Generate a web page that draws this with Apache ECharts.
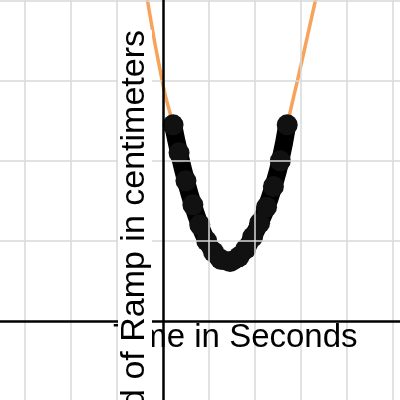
<!DOCTYPE html>
<html>
<head>
<meta charset="utf-8">
<script src="https://cdn.jsdelivr.net/npm/echarts@6/dist/echarts.min.js"></script>
<style>html,body{margin:0;padding:0;background:#fff}#chart{width:400px;height:400px}</style>
</head>
<body>
<div id="chart"></div>
<script>
// Grid lines (one unit each way)
var gridX = [-3, -2, -1, 1, 2, 3, 4, 5];
var gridY = [1, 2, 3, 4];
// Fitted curve (orange)
var curveX = [-0.35, 0, 0.22, 0.5, 0.8, 1.1, 1.46, 1.8, 2.1, 2.4, 2.7, 3.0, 3.33];
var curveY = [4.05, 2.95, 2.45, 1.75, 1.22, 0.88, 0.74, 0.86, 1.18, 1.65, 2.45, 3.2, 4.05];
var dataX = [0.22, 0.35, 0.5, 0.65, 0.8, 0.95, 1.1, 1.25, 1.46, 1.65, 1.8, 1.95, 2.1, 2.25, 2.4, 2.55, 2.7];
var dataY = [2.45, 2.1, 1.75, 1.45, 1.2, 1.0, 0.86, 0.77, 0.74, 0.8, 0.9, 1.05, 1.22, 1.42, 1.68, 2.0, 2.45];
var xLabel = 'Time in Seconds';
var yLabel = 'Height of End of Ramp in centimeters';

function pairs(xs, ys) { return xs.map(function (x, i) { return [x, ys[i]]; }); }

var chart = echarts.init(document.getElementById('chart'));
var gridLines = gridX.map(function (v) { return { xAxis: v }; })
  .concat(gridY.map(function (v) { return { yAxis: v }; }));
chart.setOption({
  animation: false,
  grid: { left: 0, right: 0, top: 0, bottom: 0 },
  xAxis: { type: 'value', min: -3.54, max: 5.15, show: false },
  yAxis: { type: 'value', min: -0.99, max: 4.01, show: false },
  series: [
    {
      type: 'line', data: [], silent: true,
      markLine: {
        silent: true, symbol: 'none', label: { show: false },
        lineStyle: { color: '#d8d8d8', width: 1.5, type: 'solid' },
        data: gridLines
      }
    },
    {
      type: 'line', data: [], silent: true,
      markLine: {
        silent: true, symbol: 'none', label: { show: false },
        lineStyle: { color: '#000', width: 2.5, type: 'solid' },
        data: [{ xAxis: 0 }, { yAxis: 0 }]
      }
    },
    {
      type: 'line', data: pairs(curveX, curveY), smooth: true, showSymbol: false,
      lineStyle: { color: '#f7a35c', width: 3.5 }
    },
    {
      type: 'line', data: pairs(dataX, dataY), smooth: true, symbol: 'circle', symbolSize: 21,
      itemStyle: { color: '#111' }, lineStyle: { color: '#000', width: 18, cap: 'round' }
    }
  ],
  graphic: [
    {
      type: 'text', left: 113, top: 321, z: 100,
      style: { text: xLabel, fontFamily: 'Liberation Sans, Arial', fontSize: 33, fill: '#000' }
    },
    {
      type: 'text', x: 135, y: 30, rotation: Math.PI / 2, z: 101,
      style: {
        text: yLabel, fontFamily: 'Liberation Sans, Arial', fontSize: 34, fill: '#000',
        align: 'right', verticalAlign: 'middle', backgroundColor: '#fff'
      }
    }
  ]
});
</script>
</body>
</html>
